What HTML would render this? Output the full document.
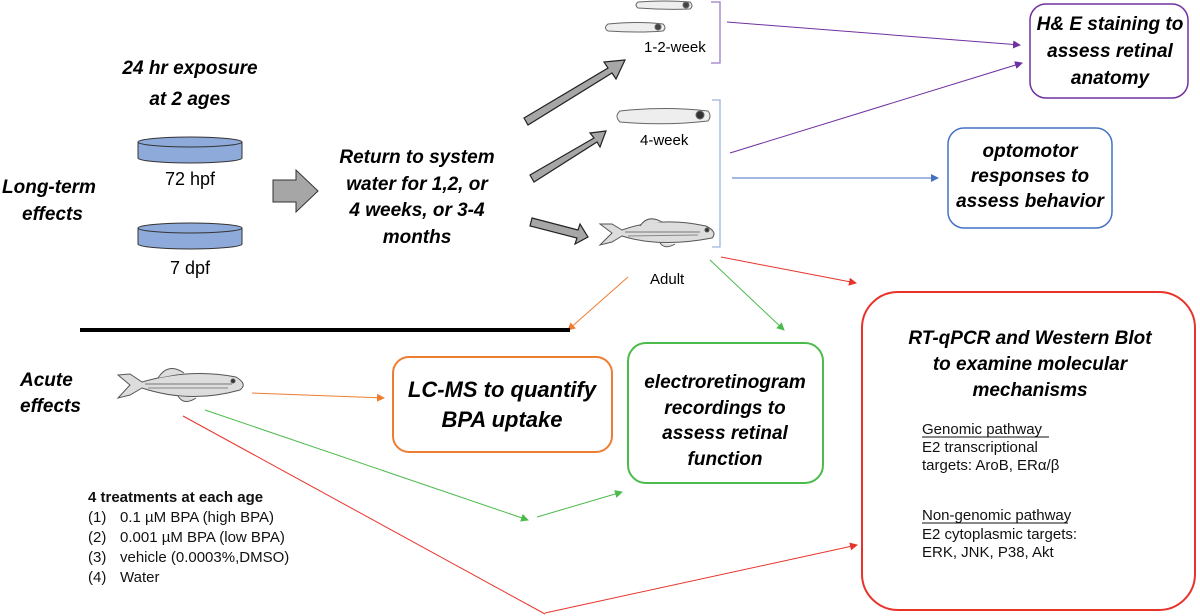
<!DOCTYPE html>
<html><head><meta charset="utf-8"><style>
body{margin:0;background:#fff}
svg{display:block}
.bi{font-family:"Liberation Sans",sans-serif;font-weight:bold;font-style:italic;font-size:19px;fill:#000}
.n{font-family:"Liberation Sans",sans-serif;font-size:15px;fill:#111}
</style></head><body>
<svg width="1200" height="616" viewBox="0 0 1200 616" xmlns="http://www.w3.org/2000/svg">
<defs>
<marker id="ap" markerWidth="8" markerHeight="8" refX="7" refY="4" orient="auto" markerUnits="userSpaceOnUse"><path d="M0,0 L8,4 L0,8z" fill="#7030a0"/></marker>
<marker id="ab" markerWidth="8" markerHeight="8" refX="7" refY="4" orient="auto" markerUnits="userSpaceOnUse"><path d="M0,0 L8,4 L0,8z" fill="#4472c4"/></marker>
<marker id="ar" markerWidth="8" markerHeight="8" refX="7" refY="4" orient="auto" markerUnits="userSpaceOnUse"><path d="M0,0 L8,4 L0,8z" fill="#e8332a"/></marker>
<marker id="ag" markerWidth="8" markerHeight="8" refX="7" refY="4" orient="auto" markerUnits="userSpaceOnUse"><path d="M0,0 L8,4 L0,8z" fill="#4cbb4c"/></marker>
<marker id="ao" markerWidth="8" markerHeight="8" refX="7" refY="4" orient="auto" markerUnits="userSpaceOnUse"><path d="M0,0 L8,4 L0,8z" fill="#ed7d31"/></marker>
</defs>

<text class="bi" x="190" y="74" text-anchor="middle">24 hr exposure</text>
<text class="bi" x="190" y="105" text-anchor="middle">at 2 ages</text>

<g fill="#8eaadb" stroke="#333" stroke-width="1">
<path d="M138,142 L138,158 A52,5 0 0 0 242,158 L242,142"/>
<ellipse cx="190" cy="142" rx="52" ry="5"/>
<path d="M138,228 L138,244 A52,5 0 0 0 242,244 L242,228"/>
<ellipse cx="190" cy="228" rx="52" ry="5"/>
</g>
<text x="190" y="185" text-anchor="middle" font-family="Liberation Sans,sans-serif" font-size="18">72 hpf</text>
<text x="190" y="274" text-anchor="middle" font-family="Liberation Sans,sans-serif" font-size="18">7 dpf</text>

<text class="bi" x="2" y="193">Long-term</text>
<text class="bi" x="22" y="220">effects</text>

<path d="M273,180 L296,180 L296,170 L318,191 L296,212 L296,202 L273,202z" fill="#a6a6a6" stroke="#333"/>

<text class="bi" x="417" y="163" text-anchor="middle">Return to system</text>
<text class="bi" x="417" y="190" text-anchor="middle">water for 1,2, or</text>
<text class="bi" x="417" y="216" text-anchor="middle">4 weeks, or 3-4</text>
<text class="bi" x="417" y="243" text-anchor="middle">months</text>

<g fill="#a6a6a6" stroke="#222" stroke-width="1.2">
<path d="M524,118 L608,68 L604,62 L625,60 L616,79 L612,73 L528,125z"/>
<path d="M530,175 L594,138 L590,133 L606,131 L600,147 L597,142 L534,182z"/>
<path d="M532,218 L578,230 L580,224 L588,237 L575,244 L577,238 L530,226z"/>
</g>

<g stroke="#666" fill="#eee" stroke-width="1">
<path d="M638,2 Q665,0 690,2 Q694,6 690,9 Q665,10 638,8 Q634,5 638,2z"/>
<circle cx="686" cy="5" r="3" fill="#444"/>
<path d="M608,24 Q640,21 663,24 Q667,28 663,31 Q640,33 608,31 Q603,28 608,24z"/>
<circle cx="658" cy="27" r="3" fill="#444"/>
<path d="M620,111 Q665,106 708,111 Q712,116 708,121 Q665,126 620,122 Q614,116 620,111z"/>
<circle cx="700" cy="115" r="4" fill="#333"/>
</g>
<g stroke="#555" fill="#ddd" stroke-width="1">
<path d="M600,224 L612,233 L600,245 L612,242 L622,236 Q660,248 712,238 Q718,232 706,226 Q660,216 622,230 L612,224z"/>
<path d="M640,226 Q648,214 662,222" />
<path d="M660,243 Q665,250 675,244" />
<line x1="625" y1="232" x2="700" y2="232" stroke="#777"/>
<line x1="628" y1="236" x2="698" y2="235" stroke="#888"/>
<circle cx="707" cy="230" r="2" fill="#333"/>
</g>
<text x="644" y="52" font-family="Liberation Sans,sans-serif" font-size="15">1-2-week</text>
<text x="640" y="145" font-family="Liberation Sans,sans-serif" font-size="15">4-week</text>
<text x="650" y="284" font-family="Liberation Sans,sans-serif" font-size="15">Adult</text>

<path d="M711,2 L720,2 L720,63 L711,63" fill="none" stroke="#9e7ac8" stroke-width="1.3"/>
<path d="M712,100 L720,100 L720,247 L712,247" fill="none" stroke="#9db3e0" stroke-width="1.3"/>

<rect x="1030" y="4" width="158" height="94" rx="16" fill="#fff" stroke="#7030a0" stroke-width="1.5"/>
<text class="bi" x="1110" y="30" text-anchor="middle">H&amp; E staining to</text>
<text class="bi" x="1110" y="57" text-anchor="middle">assess retinal</text>
<text class="bi" x="1110" y="84" text-anchor="middle">anatomy</text>

<rect x="948" y="128" width="164" height="100" rx="16" fill="#fff" stroke="#4472c4" stroke-width="1.5"/>
<text class="bi" x="1030" y="157" text-anchor="middle">optomotor</text>
<text class="bi" x="1030" y="182" text-anchor="middle">responses to</text>
<text class="bi" x="1030" y="207" text-anchor="middle">assess behavior</text>

<line x1="727" y1="22" x2="1020" y2="45" stroke="#7030a0" marker-end="url(#ap)"/>
<line x1="730" y1="153" x2="1022" y2="63" stroke="#7030a0" marker-end="url(#ap)"/>
<line x1="732" y1="178" x2="938" y2="178" stroke="#4472c4" marker-end="url(#ab)"/>
<line x1="721" y1="257" x2="856" y2="283" stroke="#e8332a" marker-end="url(#ar)"/>
<line x1="710" y1="260" x2="784" y2="330" stroke="#4cbb4c" marker-end="url(#ag)"/>
<line x1="628" y1="277" x2="568" y2="330" stroke="#ed7d31" marker-end="url(#ao)"/>

<rect x="80" y="328" width="490" height="4" fill="#000"/>

<text class="bi" x="20" y="386">Acute</text>
<text class="bi" x="20" y="412">effects</text>

<g stroke="#555" fill="#ddd" stroke-width="1">
<path d="M118,375 L130,385 L118,398 L130,395 L142,388 Q190,404 240,390 Q248,384 236,377 Q190,368 142,382 L130,374z"/>
<path d="M158,378 Q168,362 184,373"/>
<path d="M178,396 Q184,406 196,398"/>
<line x1="145" y1="384" x2="232" y2="384" stroke="#777"/>
<line x1="148" y1="388" x2="228" y2="388" stroke="#888"/>
<circle cx="233" cy="381" r="2" fill="#333"/>
</g>

<line x1="252" y1="393" x2="384" y2="398" stroke="#ed7d31" marker-end="url(#ao)"/>
<line x1="205" y1="410" x2="528" y2="520" stroke="#4cbb4c" marker-end="url(#ag)"/>
<line x1="537" y1="517" x2="622" y2="492" stroke="#4cbb4c" marker-end="url(#ag)"/>
<line x1="183" y1="416" x2="545" y2="614" stroke="#e8332a"/>
<line x1="545" y1="613" x2="857" y2="545" stroke="#e8332a" marker-end="url(#ar)"/>

<rect x="393" y="357" width="219" height="95" rx="16" fill="#fff" stroke="#ed7d31" stroke-width="2"/>
<text class="bi" x="502" y="397" text-anchor="middle" style="font-size:22px">LC-MS to quantify</text>
<text class="bi" x="502" y="427" text-anchor="middle" style="font-size:22px">BPA uptake</text>

<rect x="628" y="343" width="195" height="140" rx="18" fill="#fff" stroke="#4cbb4c" stroke-width="2"/>
<text class="bi" x="725" y="388" text-anchor="middle">electroretinogram</text>
<text class="bi" x="725" y="414" text-anchor="middle">recordings to</text>
<text class="bi" x="725" y="439" text-anchor="middle">assess retinal</text>
<text class="bi" x="725" y="465" text-anchor="middle">function</text>

<rect x="862" y="292" width="333" height="318" rx="36" fill="#fff" stroke="#e8332a" stroke-width="2"/>
<text class="bi" x="1030" y="344" text-anchor="middle">RT-qPCR and Western Blot</text>
<text class="bi" x="1030" y="370" text-anchor="middle">to examine molecular</text>
<text class="bi" x="1030" y="396" text-anchor="middle">mechanisms</text>
<text class="n" x="922" y="434">Genomic pathway</text>
<line x1="922" y1="437" x2="1049" y2="437" stroke="#111"/>
<text class="n" x="922" y="452">E2 transcriptional</text>
<text class="n" x="922" y="470">targets: AroB, ERα/β</text>
<text class="n" x="922" y="520">Non-genomic pathway</text>
<line x1="922" y1="523" x2="1068" y2="523" stroke="#111"/>
<text class="n" x="922" y="539">E2 cytoplasmic targets:</text>
<text class="n" x="922" y="557"> ERK, JNK, P38, Akt</text>

<text class="n" x="88" y="502" font-weight="bold">4 treatments at each age</text>
<text class="n" x="88" y="522">(1)</text><text class="n" x="120" y="522">0.1 µM BPA (high BPA)</text>
<text class="n" x="88" y="542">(2)</text><text class="n" x="120" y="542">0.001 µM BPA (low BPA)</text>
<text class="n" x="88" y="562">(3)</text><text class="n" x="120" y="562">vehicle (0.0003%,DMSO)</text>
<text class="n" x="88" y="582">(4)</text><text class="n" x="120" y="582">Water</text>
</svg>
</body></html>
